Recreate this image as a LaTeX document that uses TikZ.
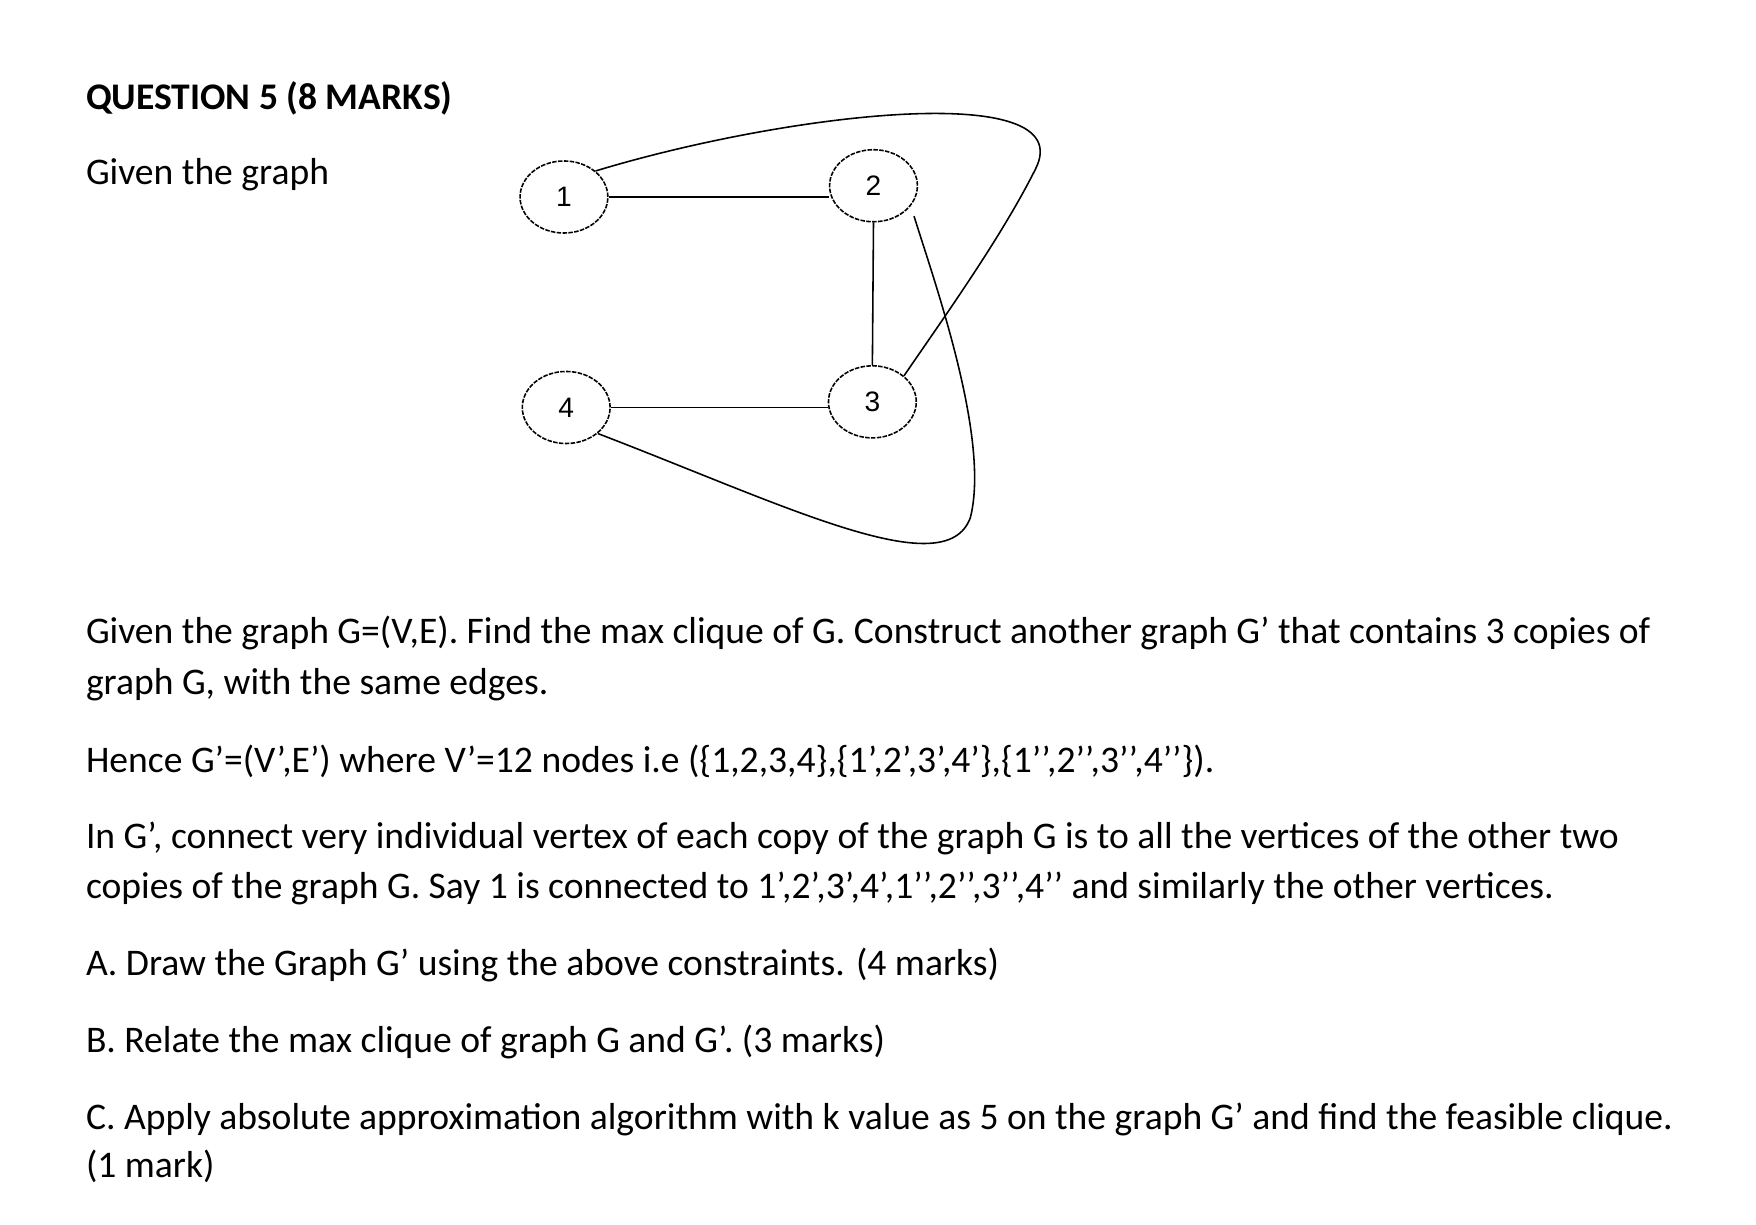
\documentclass[tikz,border=0pt]{standalone}
\usepackage{fontspec}
\usetikzlibrary{shapes.geometric}
\setmainfont{Carlito}
\begin{document}
\begin{tikzpicture}[x=0.5pt,y=-0.5pt,
  vtx/.style={draw,ellipse,minimum width=39pt,minimum height=32pt,inner sep=0pt,line width=0.7pt,dash pattern=on 2pt off 0.6pt,font=\fontspec{Liberation Sans}\fontsize{12.5}{14}\selectfont},
  edge/.style={line width=0.7pt},
  txt/.style={anchor=base west,inner sep=0pt,font=\fontsize{16.7}{19}\selectfont}]
\useasboundingbox (0,0) rectangle (1560,1088);
\node[txt,font=\bfseries\fontsize{16.7}{19}\selectfont] (q) at (76,97) {QUESTION 5 (8 MARKS)};
\node[txt] (g) at (76,164) {Given the graph};
\node[vtx] (n1) at (501,175) {1};
\node[vtx] (n2) at (776,165) {2};
\node[vtx] (n3) at (775,357) {3};
\node[vtx] (n4) at (503,362) {4};
\draw[edge] (n1.east) -- (n1.east -| n2.west);
\draw[edge] (n2.south) -- (n3.north);
\draw[edge] (n4.east) -- (n4.east -| n3.west);
\draw[edge] (n1.north east) .. controls (700,100) and (960,70) .. (920,150) .. controls (890,210) and (840,280) .. (n3.north east);
\draw[edge] (n4.south east) .. controls (700,450) and (840,520) .. (862,460) .. controls (880,390) and (830,250) .. (812,192);
\node[txt] (p1) at (76,572) {Given the graph G=(V,E). Find the max clique of G. Construct another graph G’ that contains 3 copies of};
\node[txt] (p2) at (76,617) {graph G, with the same edges.};
\node[txt] (p3) at (76,686) {Hence G’=(V’,E’) where V’=12 nodes i.e (\{1,2,3,4\},\{1’,2’,3’,4’\},\{1’’,2’’,3’’,4’’\}).};
\node[txt] (p4) at (76,754) {In G’, connect very individual vertex of each copy of the graph G is to all the vertices of the other two};
\node[txt] (p5) at (76,798) {copies of the graph G. Say 1 is connected to 1’,2’,3’,4’,1’’,2’’,3’’,4’’ and similarly the other vertices.};
\node[txt] (p6) at (76,867) {A. Draw the Graph G’ using the above constraints. (4 marks)};
\node[txt] (p7) at (76,935) {B. Relate the max clique of graph G and G’. (3 marks)};
\node[txt] (p8) at (76,1003) {C. Apply absolute approximation algorithm with k value as 5 on the graph G’ and find the feasible clique.};
\node[txt] (p9) at (76,1046) {(1 mark)};
\end{tikzpicture}
\end{document}
